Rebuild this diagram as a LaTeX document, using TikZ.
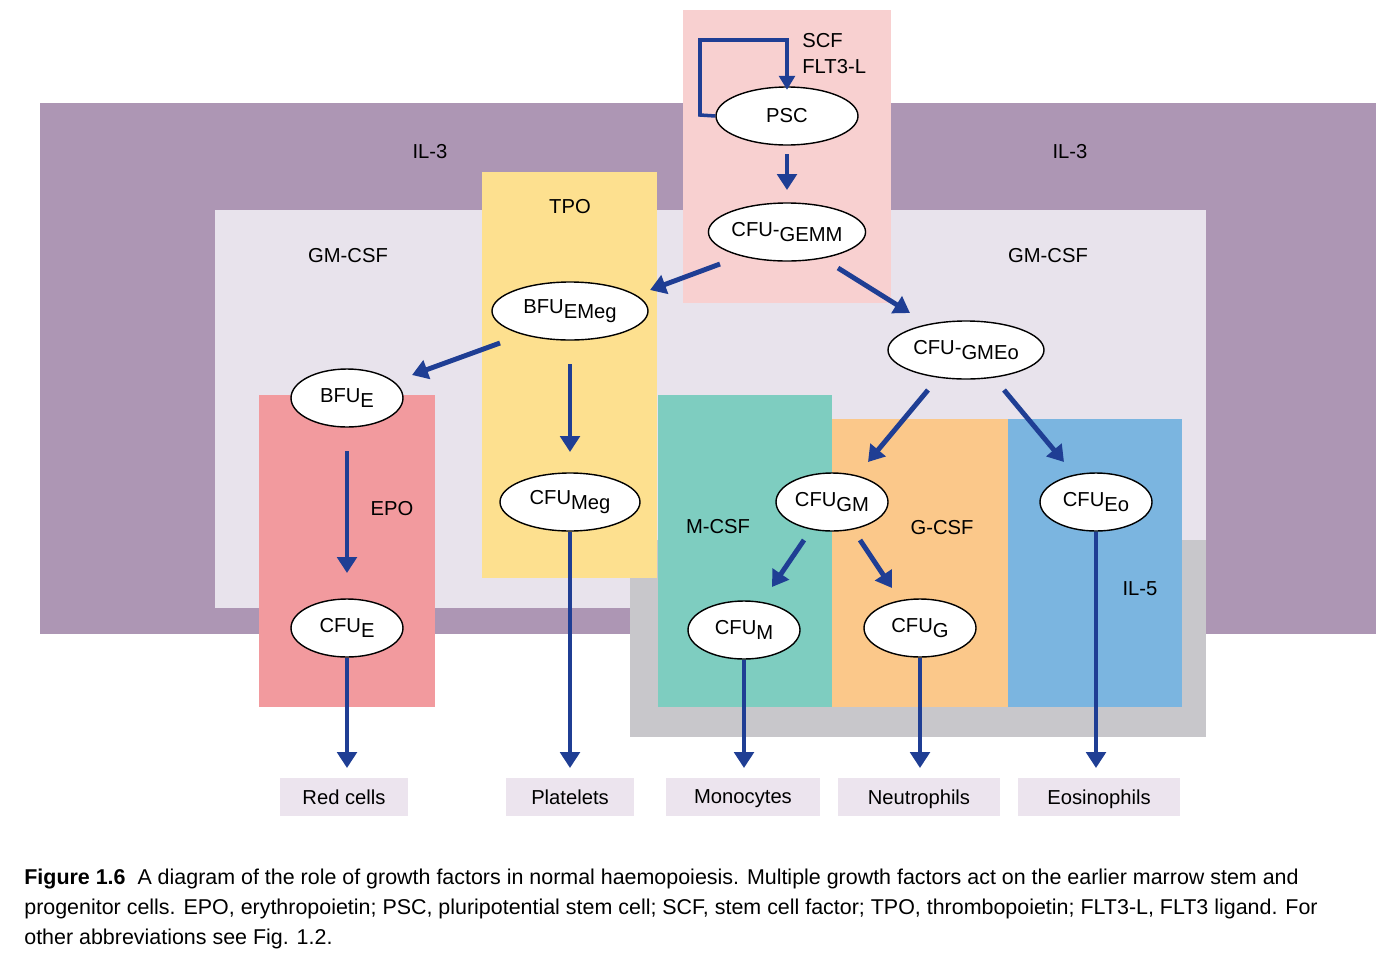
\documentclass[tikz,border=0pt]{standalone}
\usepackage{fontspec}
\setmainfont{Liberation Sans}
\usetikzlibrary{shapes.geometric,arrows.meta}
\definecolor{ilthree}{HTML}{AD96B4}
\definecolor{gmcsf}{HTML}{E8E3EC}
\definecolor{greybox}{HTML}{C8C7CB}
\definecolor{pinkbox}{HTML}{F8D0D0}
\definecolor{tpo}{HTML}{FDE08F}
\definecolor{epo}{HTML}{F29A9E}
\definecolor{mcsf}{HTML}{7ECDC0}
\definecolor{gcsf}{HTML}{FBC88A}
\definecolor{ilfive}{HTML}{7BB5E0}
\definecolor{arr}{HTML}{1F3E94}
\definecolor{outbg}{HTML}{ECE4EE}
\newcommand\lo[1]{\raisebox{-0.45ex}{#1}}
\begin{document}
\begin{tikzpicture}[x=0.02cm,y=-0.02cm,
  font=\fontsize{11.5}{13}\selectfont,
  cell/.style={ellipse,draw=black,fill=white,line width=0.8pt,minimum height=58*0.02cm,inner sep=0pt},
  lbl/.style={inner sep=0pt},
  outbox/.style={fill=outbg,minimum height=38*0.02cm,inner sep=0pt,text depth=0pt},
  ar/.style={draw=arr,line width=2.8pt,-{Triangle[length=9pt,width=11pt]}},
  captxt/.style={anchor=west,inner sep=0pt,font=\fontsize{12.2}{14}\selectfont}]
\useasboundingbox (0,0) rectangle (1387,961);
\fill[white] (0,0) rectangle (1387,961);
% backgrounds
\fill[ilthree] (40,103) rectangle (1376,634);
\fill[gmcsf] (215,210) rectangle (1206,608);
\fill[greybox] (630,540) rectangle (1206,737);
\fill[pinkbox] (683,10) rectangle (891,303);
\fill[tpo] (482,172) rectangle (657,578);
\fill[epo] (259,395) rectangle (435,707);
\fill[mcsf] (658,395) rectangle (832,707);
\fill[gcsf] (832,419) rectangle (1008,707);
\fill[ilfive] (1008,419) rectangle (1182,707);
% labels
\node[lbl] (il3a) at (430,152) {IL-3};
\node[lbl] (il3b) at (1070,152) {IL-3};
\node[lbl] (tpol) at (570,207) {TPO};
\node[lbl] (gma) at (348,256) {GM-CSF};
\node[lbl] (gmb) at (1048,256) {GM-CSF};
\node[lbl] (epol) at (392,509) {EPO};
\node[lbl] (mcl) at (718,527) {M-CSF};
\node[lbl] (gcl) at (942,528) {G-CSF};
\node[lbl] (il5) at (1140,589) {IL-5};
\node[lbl,anchor=west] (scf) at (802,41) {SCF};
\node[lbl,anchor=west] (flt) at (802,67) {FLT3-L};
% cells
\node[cell,minimum width=142*0.02cm] (psc) at (787,116) {PSC};
\node[cell,minimum width=156*0.02cm] (gemm) at (787,232) {CFU-\lo{GEMM}};
\node[cell,minimum width=156*0.02cm] (emeg) at (570,311) {BFU\lo{EMeg}};
\node[cell,minimum width=156*0.02cm] (gmeo) at (966,350) {CFU-\lo{GMEo}};
\node[cell,minimum width=112*0.02cm] (bfue) at (347,398) {BFU\lo{E}};
\node[cell,minimum width=140*0.02cm] (meg) at (570,502) {CFU\lo{Meg}};
\node[cell,minimum width=112*0.02cm] (gm) at (832,502) {CFU\lo{GM}};
\node[cell,minimum width=112*0.02cm] (eo) at (1096,502) {CFU\lo{Eo}};
\node[cell,minimum width=112*0.02cm] (cfue) at (347,628) {CFU\lo{E}};
\node[cell,minimum width=112*0.02cm] (cfum) at (744,630) {CFU\lo{M}};
\node[cell,minimum width=112*0.02cm] (cfug) at (920,628) {CFU\lo{G}};
% outputs
\node[outbox,minimum width=128*0.02cm] (red) at (344,797) {Red cells};
\node[outbox,minimum width=128*0.02cm] (plt) at (570,797) {Platelets};
\node[outbox,minimum width=154*0.02cm] (mono) at (743,797) {Monocytes};
\node[outbox,minimum width=162*0.02cm] (neut) at (919,797) {Neutrophils};
\node[outbox,minimum width=162*0.02cm] (eosi) at (1099,797) {Eosinophils};
% self loop
\coordinate (l1) at (700,115);
\coordinate (l2) at (700,40);
\coordinate (l3) at (787,40);
\draw[draw=arr,line width=2pt,-{Triangle[length=8pt,width=9pt]}] (psc.west) -- (l1) -- (l2) -- (l3) -- ([yshift=-2pt]psc.north);
% arrows
\draw[ar] (787,154) -- (787,190);
\draw[ar] (720,264) -- (650,290);
\draw[ar] (838,268) -- (910,313);
\draw[ar] (500,343) -- (412,375);
\draw[ar] (570,364) -- (570,452);
\draw[ar] (928,390) -- (868,462);
\draw[ar] (1004,390) -- (1064,462);
\draw[ar] (347,451) -- (347,573);
\draw[ar] (804,540) -- (772,587);
\draw[ar] (860,540) -- (892,588);
\draw[ar] (cfue.south) -- (347,768);
\draw[ar] (meg.south) -- (570,768);
\draw[ar] (cfum.south) -- (744,768);
\draw[ar] (cfug.south) -- (920,768);
\draw[ar] (eo.south) -- (1096,768);
% caption
\node[captxt] (c1) at (24,879) {\textbf{Figure 1.6}\ \ A diagram of the role of growth factors in normal haemopoiesis. Multiple growth factors act on the earlier marrow stem and};
\node[captxt] (c2) at (24,909) {progenitor cells. EPO, erythropoietin; PSC, pluripotential stem cell; SCF, stem cell factor; TPO, thrombopoietin; FLT3-L, FLT3 ligand. For};
\node[captxt] (c3) at (24,939) {other abbreviations see Fig. 1.2.};
\end{tikzpicture}
\end{document}
